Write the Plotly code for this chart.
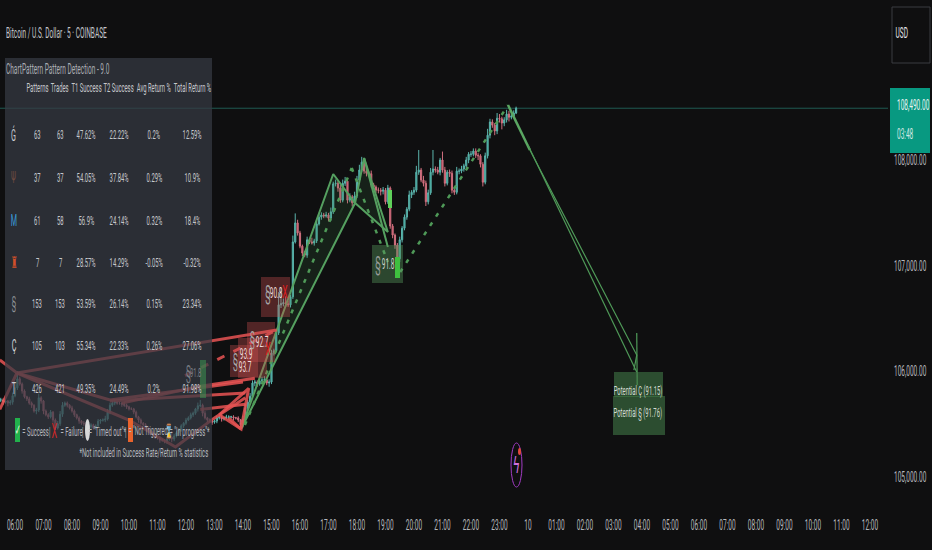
# -*- coding: utf-8 -*-
"""BTC 5 minute chart with the pattern detection panel on top of it."""

import pandas as pd
import plotly.graph_objects as go

W, H = 932, 550
PLOT_R, PLOT_B = 888, 514
BG = "#0f0f10"
FONT = "Roboto, sans-serif"
GREY = "#b6b8bd"

# Candles, one per 5 minutes from 05:30
closes = [
    105730, 105710, 105720, 105700, 105710, 105770, 105845, 105930, 105880, 105815,
    105760, 105740, 105700, 105680, 105625, 105635, 105750, 105720, 105625, 105590,
    105570, 105615, 105540, 105465, 105505, 105595, 105680, 105700, 105680, 105655,
    105625, 105590, 105560, 105530, 105510, 105505, 105475, 105475, 105495, 105465,
    105485, 105530, 105540, 105540, 105550, 105615, 105680, 105700, 105710, 105700,
    105700, 105690, 105680, 105665, 105645, 105645, 105615, 105570, 105540, 105510,
    105495, 105465, 105445, 105420, 105400, 105380, 105370, 105350, 105350, 105340,
    105360, 105380, 105360, 105390, 105420, 105445, 105485, 105510, 105540, 105560,
    105590, 105605, 105645, 105675, 105680, 105605, 105560, 105540, 105530, 105520,
    105530, 105560, 105570, 105550, 105560, 105570, 105570, 105570, 105560, 105560,
    105540, 105495, 105550, 105655, 105710, 105765, 105890, 105900, 105880, 105910,
    105920, 105920, 105890, 105900, 106175, 106195, 106365, 106630, 106640, 106650,
    106640, 106630, 106705, 107225, 107405, 107310, 107185, 107120, 107100, 107245,
    107225, 107215, 107235, 107395, 107460, 107480, 107470, 107480, 107450, 107510,
    107775, 107780, 107735, 107620, 107780, 107800, 107620, 107650, 107595, 107660,
    107810, 107905, 107980, 107895, 107875, 107870, 107765, 107745, 107715, 107715,
    107705, 107715, 107605, 107735, 107375, 107290, 107195, 107065, 107245, 107355,
    107460, 107535, 107670, 107695, 107715, 107885, 107905, 107810, 107780, 107605,
    107690, 107885, 107915, 107905, 107885, 108000, 107905, 107780, 107885, 107875,
    107715, 107695, 107895, 107895, 107915, 107945, 108000, 108055, 108055, 108085,
    108045, 108040, 107960, 107790, 108040, 108235, 108360, 108330, 108275, 108395,
    108390, 108350, 108380, 108435, 108405, 108415, 108445, 108490,
]
upper_wicks = [
    20, 15, 25, 10, 20, 30, 35, 70, 20, 15, 15, 10, 20, 15, 10, 20, 40, 15, 10, 15,
    15, 20, 10, 15, 25, 30, 30, 15, 15, 10, 20, 15, 10, 15, 10, 20, 15, 20, 15, 10,
    15, 20, 10, 15, 30, 30, 25, 20, 15, 10, 15, 10, 20, 15, 10, 15, 10, 15, 10, 15,
    10, 15, 20, 10, 15, 10, 15, 20, 15, 10, 15, 60, 55, 20, 15, 20, 15, 10, 20, 15,
    20, 15, 10, 30, 50, 15, 20, 10, 15, 10, 15, 20, 10, 15, 10, 20, 15, 10, 15, 10,
    15, 10, 30, 40, 20, 30, 25, 20, 15, 40, 30, 35, 20, 25, 30, 20, 30, 120, 150, 40,
    60, 30, 20, 60, 90, 30, 20, 15, 20, 30, 15, 40, 20, 30, 40, 25, 20, 30, 20, 40,
    20, 35, 20, 30, 35, 40, 20, 35, 20, 40, 40, 50, 50, 20, 30, 15, 30, 20, 15, 25,
    20, 30, 20, 30, 15, 20, 15, 20, 30, 20, 25, 20, 40, 20, 30, 60, 190, 20, 40, 25,
    30, 40, 180, 25, 30, 20, 80, 30, 20, 25, 25, 20, 40, 25, 30, 20, 30, 20, 30, 25,
    25, 20, 15, 20, 30, 60, 30, 25, 20, 50, 40, 20, 25, 40, 30, 20, 25, 15,
]
lower_wicks = [
    20, 25, 15, 30, 20, 25, 15, 20, 15, 25, 15, 20, 15, 25, 15, 30, 20, 25, 30, 15,
    20, 15, 25, 20, 15, 20, 25, 15, 20, 15, 15, 20, 15, 25, 15, 20, 15, 10, 25, 15,
    20, 15, 25, 15, 20, 15, 20, 15, 20, 15, 15, 25, 15, 20, 15, 10, 20, 15, 25, 15,
    15, 20, 15, 25, 15, 20, 15, 25, 15, 20, 25, 15, 30, 20, 15, 25, 15, 20, 15, 10,
    15, 20, 15, 25, 15, 30, 15, 20, 15, 25, 15, 20, 15, 25, 15, 10, 20, 15, 25, 15,
    20, 30, 25, 15, 20, 25, 20, 30, 25, 15, 20, 30, 20, 35, 20, 25, 15, 20, 30, 25,
    30, 20, 25, 20, 15, 25, 20, 30, 20, 25, 20, 15, 25, 20, 15, 25, 20, 15, 30, 25,
    20, 25, 35, 25, 20, 25, 30, 20, 35, 25, 20, 25, 20, 25, 30, 20, 25, 20, 25, 30,
    40, 30, 25, 20, 25, 30, 35, 40, 30, 25, 20, 25, 20, 30, 25, 20, 25, 20, 30, 40,
    25, 20, 30, 25, 20, 30, 25, 30, 20, 35, 30, 25, 20, 30, 20, 25, 20, 30, 25, 20,
    25, 40, 30, 40, 20, 25, 30, 25, 40, 30, 35, 60, 30, 25, 40, 20, 15, 10,
]
current_price = 108490

# Axis
price_ticks = [105000, 106000, 107000, 108000]
time_ticks = pd.date_range("2025-06-09 06:00", "2025-06-10 12:00", freq="1h")
x_range = ["2025-06-09 05:28:25", "2025-06-10 12:38:00"]
y_range = [104651, 109514]

# Green pattern, as (time, price) pivots
harmonic_t = ["2025-06-09 13:56", "2025-06-09 17:10", "2025-06-09 17:56", "2025-06-09 13:56"]
harmonic_p = [105455, 107868, 107593, 105455]
harmonic2_t = ["2025-06-09 17:56", "2025-06-09 18:15", "2025-06-09 19:05", "2025-06-09 17:56"]
harmonic2_p = [107593, 108019, 107319, 107593]
leg_cd_t = ["2025-06-09 18:15", "2025-06-09 19:05"]
leg_cd_p = [108019, 107177]
dotted_t = [
    ["2025-06-09 14:04", "2025-06-09 17:49"],
    ["2025-06-09 17:49", "2025-06-09 19:05"],
    ["2025-06-09 19:31", "2025-06-09 23:18"],
]
dotted_p = [[105493, 107924], [107924, 107035], [106940, 108520]]

# Projection from the last peak
proj_thick_t = ["2025-06-09 23:18", "2025-06-10 00:04"]
proj_thick_p = [108520, 108095]
proj_a_t = ["2025-06-10 00:00", "2025-06-10 03:49"]
proj_a_p = [108142, 105994]
proj_b_t = ["2025-06-10 00:04", "2025-06-10 03:49", "2025-06-10 03:43"]
proj_b_p = [108095, 106155, 106013]
proj_stub_t = ["2025-06-10 03:49", "2025-06-10 03:50"]
proj_stub_p = [106363, 105870]

# Red failed patterns
red_lines = [
    (["2025-06-09 05:28", "2025-06-09 06:04", "2025-06-09 15:11"], [106108, 105985, 106392]),
    (["2025-06-09 05:28", "2025-06-09 06:04"], [105640, 105985]),
    (["2025-06-09 06:04", "2025-06-09 09:20", "2025-06-09 14:00"], [105985, 105730, 105900]),
    (["2025-06-09 06:04", "2025-06-09 10:00", "2025-06-09 11:38", "2025-06-09 13:00", "2025-06-09 14:05"],
     [105985, 105540, 105285, 105560, 105750]),
    (["2025-06-09 09:45", "2025-06-09 12:30", "2025-06-09 14:25"], [105700, 105860, 105935]),
    (["2025-06-09 09:20", "2025-06-09 12:30", "2025-06-09 14:05"], [105720, 105770, 105795]),
    (["2025-06-09 12:30", "2025-06-09 14:05"], [105640, 105690]),
    (["2025-06-09 13:10", "2025-06-09 14:12", "2025-06-09 13:56", "2025-06-09 13:10"],
     [105590, 105840, 105455, 105590]),
    (["2025-06-09 13:30", "2025-06-09 13:56"], [105560, 105455]),
]
red_dash_t = ["2025-06-09 11:58", "2025-06-09 15:11"]
red_dash_p = [105960, 106392]

# Table
table_columns = ["Patterns", "Trades", "T1 Success", "T2 Success", "Avg Return %", "Total Return %"]
table_icons = ["Ǵ", "Ψ", "M", "♜", "§", "Ç", "T"]
table_icon_colors = ["#c9ccd1", "#6e4a40", "#3a9bd8", "#d2502a", "#8d9196", "#d8dade", "#c9ccd1"]
patterns_count = [63, 37, 61, 7, 153, 105, 426]
trades_count = [63, 37, 58, 7, 153, 103, 421]
t1_success = ["47.62%", "54.05%", "56.9%", "28.57%", "53.59%", "55.34%", "49.35%"]
t2_success = ["22.22%", "37.84%", "24.14%", "14.29%", "26.14%", "22.33%", "24.49%"]
avg_return = ["0.2%", "0.29%", "0.32%", "-0.05%", "0.15%", "0.26%", "0.2%"]
total_return = ["12.59%", "10.9%", "18.4%", "-0.32%", "23.34%", "27.06%", "91.98%"]

# No condensed font is installed, so the text is narrowed once it is drawn
POST_SCRIPT = """
document.body.style.margin = '0';
document.body.style.background = '#0f0f10';
var gd = document.getElementById('{plot_id}');
function narrow(t) {
    var w = t.getComputedTextLength();
    t.setAttribute('lengthAdjust', 'spacingAndGlyphs');
    t.setAttribute('textLength', w * 0.45);
    return w * 0.275;
}
function squeeze() {
    gd.querySelectorAll('.annotation').forEach(function (a) {
        var t = a.querySelector('.annotation-text');
        if (t.hasAttribute('textLength')) { return; }
        var side = gd.layout.annotations[+a.getAttribute('data-index')].xanchor;
        var shift = narrow(t);
        var x = parseFloat(t.getAttribute('x'));
        if (side === 'left') { t.setAttribute('x', x - shift); }
        if (side === 'right') { t.setAttribute('x', x + shift); }
    });
    gd.querySelectorAll('.xtick text, .ytick text').forEach(function (t) {
        if (!t.hasAttribute('textLength')) { narrow(t); }
    });
}
squeeze();
setTimeout(squeeze, 30);
"""


def px(x):
    return x / PLOT_R


def py(y):
    return 1 - y / PLOT_B


def label(text, x, y, size=13, color=GREY, anchor="center"):
    return dict(
        text=text, x=px(x), y=py(y), xref="paper", yref="paper", showarrow=False,
        xanchor=anchor, yanchor="middle", font=dict(family=FONT, size=size, color=color),
    )


def box(x0, y0, x1, y1, fill, line=None, layer="above", kind="rect"):
    return dict(
        type=kind, xref="paper", yref="paper", x0=px(x0), x1=px(x1), y0=py(y0), y1=py(y1),
        fillcolor=fill, line=dict(color=line or "rgba(0,0,0,0)", width=1), layer=layer,
    )


opens = closes[:1] + closes[:-1]
highs = [max(o, c) + w for o, c, w in zip(opens, closes, upper_wicks)]
lows = [min(o, c) - w for o, c, w in zip(opens, closes, lower_wicks)]
times = pd.date_range("2025-06-09 05:30", periods=len(closes), freq="5min")

fig = go.Figure()

# Pattern fills go under the candles
for tt, pp in [(harmonic_t, harmonic_p), (harmonic2_t, harmonic2_p)]:
    fig.add_trace(go.Scatter(
        x=tt, y=pp, mode="lines", fill="toself", fillcolor="rgba(70,140,80,0.15)",
        line=dict(color="#55a060", width=2),
    ))
fig.add_trace(go.Scatter(x=leg_cd_t, y=leg_cd_p, mode="lines", line=dict(color="#55a060", width=2)))
for tt, pp in zip(dotted_t, dotted_p):
    fig.add_trace(go.Scatter(x=tt, y=pp, mode="lines", line=dict(color="#4f9a58", width=2.5, dash="4px,7px")))

for tt, pp in red_lines:
    fig.add_trace(go.Scatter(x=tt, y=pp, mode="lines", line=dict(color="rgba(232,84,84,0.85)", width=3)))
fig.add_trace(go.Scatter(x=red_dash_t, y=red_dash_p, mode="lines",
                         line=dict(color="rgba(232,84,84,0.85)", width=3, dash="8px,10px")))

fig.add_trace(go.Candlestick(
    x=times, open=opens, high=highs, low=lows, close=closes, whiskerwidth=0,
    increasing=dict(line=dict(color="#5cb5ad", width=1), fillcolor="#2f9c92"),
    decreasing=dict(line=dict(color="#d0707f", width=1), fillcolor="#c44e64"),
))

fig.add_trace(go.Scatter(x=proj_thick_t, y=proj_thick_p, mode="lines", line=dict(color="#5aa662", width=2.5)))
for tt, pp in [(proj_a_t, proj_a_p), (proj_b_t, proj_b_p), (proj_stub_t, proj_stub_p)]:
    fig.add_trace(go.Scatter(x=tt, y=pp, mode="lines", line=dict(color="#4f9a58", width=1.2)))

shapes = [
    dict(type="line", xref="paper", yref="y", x0=0, x1=1, y0=current_price, y1=current_price,
         line=dict(color="#1f5a52", width=1), layer="below"),
    # stats panel, the chart shows through it
    box(5, 58, 212, 470, "rgba(54,58,68,0.72)"),
    # red result boxes
    box(261, 277, 290, 317, "rgba(205,80,80,0.35)"),
    box(247, 322, 275, 362, "rgba(205,80,80,0.35)"),
    box(238, 338, 267, 378, "rgba(205,80,80,0.35)"),
    box(230, 345, 258, 377, "rgba(205,80,80,0.35)"),
    # green result boxes
    box(372, 245, 403, 283, "rgba(85,150,90,0.42)"),
    box(200, 360, 206, 398, "rgba(60,150,80,0.55)"),
    box(388, 190, 392, 208, "#5fd05a"),
    box(395, 257, 400, 278, "#3fc03f"),
    box(614, 372, 663, 397, "rgba(70,130,75,0.55)"),
    box(613, 396, 665, 435, "rgba(70,130,75,0.55)"),
    # legend marks
    box(15, 418, 20, 442, "#22b14c"),
    box(128, 418, 133, 442, "#e8632c"),
    box(85, 419, 90, 441, "#d9d9d9", kind="circle"),
    # the bolt badge and the price and currency tags
    box(511, 443, 522, 487, "rgba(0,0,0,0)", line="#a23cc4", kind="circle"),
    box(518, 448, 521, 455, "#e0483c", kind="circle"),
    box(890, 88, 930, 153, "#089981"),
    box(892, 7, 930, 63, BG, line="#3a3c40"),
]

annotations = [
    label("Bitcoin / U.S. Dollar · 5 · COINBASE", 4, 34, size=14.5, color="#c4c6cb", anchor="left"),
    label("ChartPattern Pattern Detection - 9.0", 4, 70, size=14.5, color="#a9acb2", anchor="left"),
    label("USD", 902, 34, size=14.5, color="#e4e5e7"),
    label(f"{current_price:,.2f}", 895, 106, size=14.5, color="#e9f4f2", anchor="left"),
    label("03:48", 895, 135, size=14.5, color="#d0e8e4", anchor="left"),
]

column_x = [37, 60, 86, 119, 154, 192]
row_y = [135, 177, 220, 262, 303, 345, 388]
for name, cx in zip(table_columns, column_x):
    annotations.append(label(name, cx, 87, color="#c6c8cc"))
columns = [patterns_count, trades_count, t1_success, t2_success, avg_return, total_return]
for i, ry in enumerate(row_y):
    annotations.append(label(table_icons[i], 14, ry, size=16, color=table_icon_colors[i]))
    for col, cx in zip(columns, column_x):
        annotations.append(label(str(col[i]), cx, ry, color="#c6c8cc"))

annotations += [
    label("✓", 17.5, 430, size=15, color="#e8f5e8"),
    label("= Success", 35, 431),
    label("|", 49, 431),
    label("X", 54, 431, size=20, color="#d02828"),
    label("= Failure", 71, 431),
    label("|", 82, 431),
    label('= "Timed out"*', 107, 431),
    label("|", 125, 431),
    label('= "Not Triggered"', 149, 431, size=12),
    label("⌛", 168, 431, size=14),
    label('= "In progress"*', 190, 431),
    label("*Not included in Success Rate/Return % statistics", 210, 452, anchor="right"),
    label("§", 268, 293, size=20, color="#a9a9a9"),
    label("90.8", 276, 293, size=14.5, color="#f0dcdc"),
    label("X", 285, 291, size=19, color="#e02020"),
    label("§", 252, 338, size=18, color="#a9a9a9"),
    label("92.7", 262, 342, size=14.5, color="#f0dcdc"),
    label("X", 268, 348, size=19, color="#e02020"),
    label("§", 235, 360, size=18, color="#a9a9a9"),
    label("93.9", 246, 354, size=14.5, color="#f0dcdc"),
    label("93.7", 245, 367, size=14.5, color="#f0dcdc"),
    label("§", 188, 372, size=18, color="#7b7f85"),
    label("91.8", 195, 372, color="#7b7f85"),
    label("§", 378, 264, size=20, color="#9a9d9a"),
    label("91.8", 388, 264, size=14.5, color="#d0d4cc"),
    label("Potential Ç (91.15)", 638, 390, color="#d4dcd2"),
    label("Potential § (91.76)", 638, 413, color="#d4dcd2"),
    label("ϟ", 516, 465, size=24, color="#d070e0"),
]

fig.update_layout(
    width=W, height=H, autosize=False,
    margin=dict(l=0, r=W - PLOT_R, t=0, b=H - PLOT_B, autoexpand=False),
    paper_bgcolor=BG, plot_bgcolor=BG,
    showlegend=False,
    shapes=shapes,
    annotations=annotations,
    font=dict(family=FONT, size=12, color=GREY),
    xaxis=dict(
        range=x_range, rangeslider=dict(visible=False), showgrid=False, zeroline=False,
        tickvals=list(time_ticks),
        ticktext=["10" if t.hour == 0 else t.strftime("%H:%M") for t in time_ticks],
        tickangle=0, ticklen=0, showline=False, ticklabeloverflow="allow",
        tickfont=dict(family=FONT, size=14.5, color=GREY),
    ),
    yaxis=dict(
        range=y_range, side="right", showgrid=False, zeroline=False, showline=False,
        tickvals=price_ticks, ticktext=[f"{p:,.2f}" for p in price_ticks],
        ticklen=0, ticklabelstandoff=5, ticklabeloverflow="allow",
        tickfont=dict(family=FONT, size=14.5, color=GREY),
    ),
)

fig.write_html("out.html", config={"displayModeBar": False}, post_script=POST_SCRIPT)
